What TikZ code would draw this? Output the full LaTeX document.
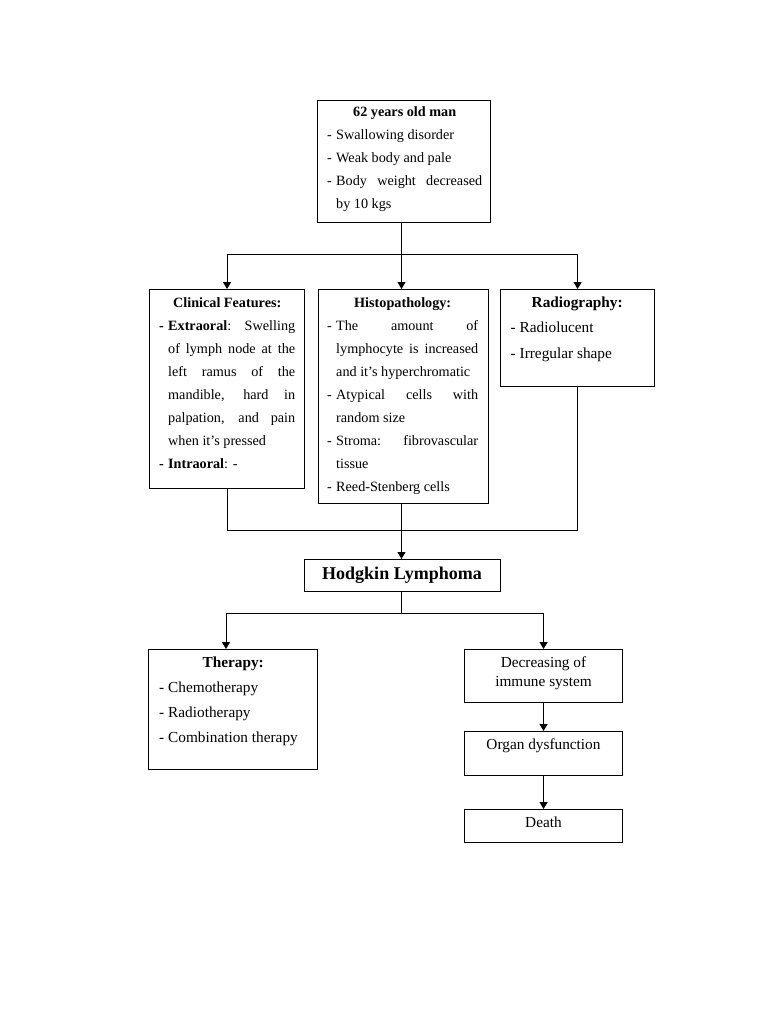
\documentclass[tikz,border=0pt]{standalone}
\usepackage{fontspec}
\setmainfont{Liberation Serif}
\usetikzlibrary{arrows.meta}
\newcommand\Jline[1]{\makebox[\linewidth][s]{#1}\par}
\newcommand\Lline[1]{\makebox[\linewidth][l]{#1}\par}
\newcommand\Cline[1]{\makebox[\linewidth][c]{#1}\par}
\newcommand\ind{\hspace*{9pt}}
\newcommand\dsh{\makebox[9pt][l]{-}}
\newcommand\bdsh{\makebox[9pt][l]{\bfseries -}}
\begin{document}
\begin{tikzpicture}[x=1pt,y=-1pt,
  box/.style={draw, line width=1.1pt, inner sep=0pt, anchor=north west},
  txt/.style={anchor=base west, inner sep=0pt},
  ctxt/.style={anchor=base, inner sep=0pt},
  ln/.style={line width=1pt},
  arr/.style={line width=1pt,-{Triangle[length=7pt,width=8pt]}}]
\useasboundingbox (0,0) rectangle (768,1024);
\fill[white] (0,0) rectangle (768,1024);

% boxes
\node[box, minimum width=173pt, minimum height=122pt] (top) at (317,100) {};
\node[box, minimum width=155pt, minimum height=199pt] (clin) at (149,289) {};
\node[box, minimum width=170pt, minimum height=214pt] (histo) at (318,289) {};
\node[box, minimum width=154pt, minimum height=97pt] (radio) at (500,289) {};
\node[box, minimum width=196pt, minimum height=32pt] (hl) at (304,559) {};
\node[box, minimum width=169pt, minimum height=120pt] (ther) at (148,649) {};
\node[box, minimum width=158pt, minimum height=52.5pt] (dec) at (464,649) {};
\node[box, minimum width=158pt, minimum height=44pt] (org) at (464,731) {};
\node[box, minimum width=158pt, minimum height=32.5pt] (death) at (464,809) {};

% texts
\node[txt] (topt) at (327,117) {\parbox[t]{155pt}{\fontsize{14.2}{23}\selectfont
\Cline{\bfseries 62 years old man}
\Lline{\dsh Swallowing disorder}
\Lline{\dsh Weak body and pale}
\Jline{\dsh Body weight decreased}
\Lline{\ind by 10 kgs}}};

\node[txt] (clint) at (159,307) {\parbox[t]{136pt}{\fontsize{14.2}{23}\selectfont
\Cline{\bfseries Clinical Features:}
\Jline{\bdsh\textbf{Extraoral}: Swelling}
\Jline{\ind of lymph node at the}
\Jline{\ind left ramus of the}
\Jline{\ind mandible, hard in}
\Jline{\ind palpation, and pain}
\Lline{\ind when it’s pressed}
\Lline{\bdsh\textbf{Intraoral}: -}}};

\node[txt] (histot) at (327,307) {\parbox[t]{151pt}{\fontsize{14.2}{23}\selectfont
\Cline{\bfseries Histopathology:}
\Jline{\dsh The amount of}
\Jline{\ind lymphocyte is increased}
\Lline{\ind and it’s hyperchromatic}
\Jline{\dsh Atypical cells with}
\Lline{\ind random size}
\Jline{\dsh Stroma: fibrovascular}
\Lline{\ind tissue}
\Lline{\dsh Reed-Stenberg cells}}};

\node[txt] (radiot) at (510.5,307) {\parbox[t]{133pt}{\fontsize{15.3}{25.5}\selectfont
\Cline{\bfseries Radiography:}
\Lline{\dsh Radiolucent}
\Lline{\dsh Irregular shape}}};

\node[ctxt] (hlt) at (402,579) {\fontsize{18}{20}\selectfont\bfseries Hodgkin Lymphoma};

\node[txt] (thert) at (159,667) {\parbox[t]{148pt}{\fontsize{15.3}{25.3}\selectfont
\Cline{\bfseries Therapy:}
\Lline{\dsh Chemotherapy}
\Lline{\dsh Radiotherapy}
\Lline{\dsh Combination therapy}}};

\node[ctxt] (dect) at (543.5,667) {\parbox[t]{150pt}{\centering\fontsize{15.3}{19}\selectfont Decreasing of\\immune system}};
\node[ctxt] (orgt) at (543.5,749) {\fontsize{15.3}{19}\selectfont Organ dysfunction};
\node[ctxt] (deatht) at (543.5,827) {\fontsize{15.3}{19}\selectfont Death};

% connectors
\coordinate (j1) at (401.5,254.5);
\draw[ln] (top.south -| j1) -- (j1);
\draw[arr] (j1) -| (clin.north);
\draw[arr] (j1) -- (histo.north -| j1);
\draw[arr] (j1) -| (radio.north);

\coordinate (j2) at (401.5,530.5);
\draw[ln] (clin.south) |- (j2) -| (radio.south);
\draw[ln] (histo.south -| j2) -- (j2);
\draw[arr] (j2) -- (hl.north -| j2);

\coordinate (j3) at (401.5,613.5);
\coordinate (ta) at (226,649);
\draw[ln] (hl.south -| j3) -- (j3);
\draw[arr] (j3) -| (ta);
\draw[arr] (j3) -| (dec.north);
\draw[arr] (dec.south) -- (org.north);
\draw[arr] (org.south) -- (death.north);
\end{tikzpicture}
\end{document}
